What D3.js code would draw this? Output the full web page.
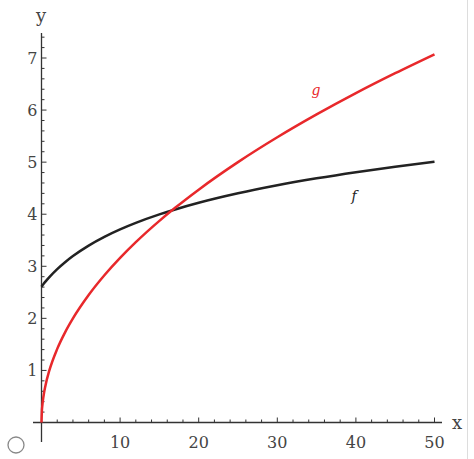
<!DOCTYPE html>
<head>
  <meta charset="utf-8">
  <script src="https://cdn.jsdelivr.net/npm/d3@7"></script>
  <style>
    body { margin: 0; background: #fff; }
    text { font-family: "DejaVu Serif", serif; fill: #444; }
  </style>
</head>
<body>
<script>
    var xs = [0, 0.05, 0.1, 0.25, 0.5, 1, 2, 3, 4, 6, 8, 10, 12, 15, 17, 20, 25, 30, 35, 40, 45, 50];
    var fVals = [2.609, 2.619, 2.629, 2.658, 2.705, 2.792, 2.946, 3.079, 3.197, 3.398, 3.565, 3.708, 3.833, 3.996, 4.091, 4.219, 4.401, 4.555, 4.689, 4.807, 4.912, 5.007];
    var gVals = [0, 0.224, 0.316, 0.5, 0.707, 1, 1.414, 1.732, 2, 2.449, 2.828, 3.162, 3.464, 3.873, 4.123, 4.472, 5, 5.477, 5.916, 6.325, 6.708, 7.071];
    var xTickLabels = [10, 20, 30, 40, 50];
    var yTickLabels = [1, 2, 3, 4, 5, 6, 7];

    var svg = d3.select("body").append("svg").attr("width", 474).attr("height", 459);
    var x = d3.scaleLinear().domain([0, 50]).range([41.5, 434.5]);
    var y = d3.scaleLinear().domain([0, 7]).range([422.5, 58]);

    // right border line
    svg.append("line").attr("x1", 467.5).attr("x2", 467.5).attr("y1", 0).attr("y2", 459)
        .style("stroke", "#ddd");

    // x axis
    var xg = svg.append("g").attr("transform", "translate(0," + y(0) + ")");
    xg.append("line").attr("x1", 33).attr("x2", 442).style("stroke", "#333").style("stroke-width", 1.3);
    xg.selectAll(".minor").data(d3.range(2, 51, 2)).enter().append("line")
        .attr("x1", d => x(d)).attr("x2", d => x(d))
        .attr("y1", d => d % 10 === 0 ? -5 : -3).attr("y2", 0)
        .style("stroke", "#333");
    xg.selectAll("text").data(xTickLabels).enter().append("text")
        .attr("x", d => x(d)).attr("y", 25).attr("text-anchor", "middle")
        .style("font-size", "16px").text(d => d);
    svg.append("text").attr("x", 457).attr("y", 429).attr("text-anchor", "middle")
        .style("font-size", "18px").text("x");

    // y axis
    var yg = svg.append("g").attr("transform", "translate(" + x(0) + ",0)");
    yg.append("line").attr("y1", 33).attr("y2", 442).style("stroke", "#333").style("stroke-width", 1.3);
    yg.selectAll(".minor").data(d3.range(1, 38).map(d => d / 5)).enter().append("line")
        .attr("y1", d => y(d)).attr("y2", d => y(d))
        .attr("x1", 0).attr("x2", d => Math.abs(d - Math.round(d)) < 1e-6 ? 5 : 3)
        .style("stroke", "#333");
    yg.selectAll("text").data(yTickLabels).enter().append("text")
        .attr("x", -4).attr("y", d => y(d) + 6).attr("text-anchor", "end")
        .style("font-size", "16px").text(d => d);
    svg.append("text").attr("x", 41).attr("y", 22).attr("text-anchor", "middle")
        .style("font-size", "18px").text("y");

    var line = d3.line().x(d => x(d[0])).y(d => y(d[1])).curve(d3.curveMonotoneX);
    svg.append("path").datum(xs.map((v, i) => [v, fVals[i]])).attr("d", line)
        .style("fill", "none").style("stroke", "#222").style("stroke-width", 2.5);
    svg.append("path").datum(xs.map((v, i) => [v, gVals[i]])).attr("d", line)
        .style("fill", "none").style("stroke", "#e8282b").style("stroke-width", 2.5);

    svg.append("text").attr("x", 316).attr("y", 95).attr("text-anchor", "middle")
        .style("font-size", "14px").style("font-style", "italic").style("fill", "#e8282b").text("g");
    svg.append("text").attr("x", 354).attr("y", 201).attr("text-anchor", "middle")
        .style("font-size", "14px").style("font-style", "italic").style("fill", "#222").text("f");

    svg.append("circle").attr("cx", 16).attr("cy", 445).attr("r", 8)
        .style("fill", "#fff").style("stroke", "#888").style("stroke-width", 1.3);
</script>
</body>
